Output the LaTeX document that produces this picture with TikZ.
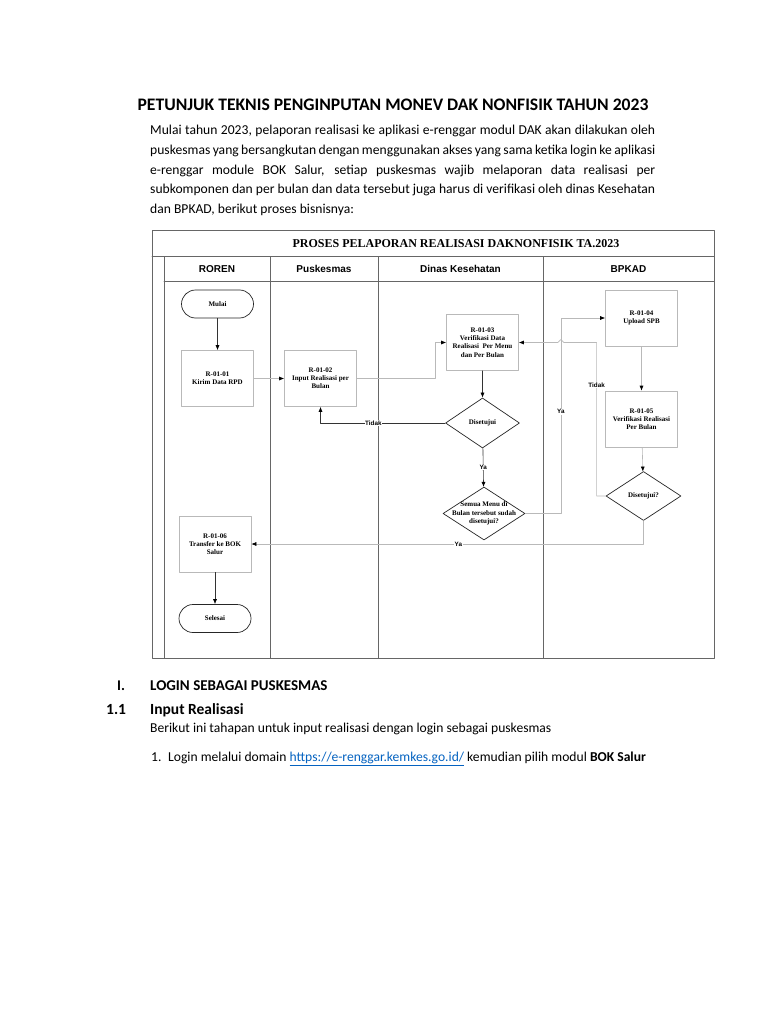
\documentclass[tikz,border=0pt]{standalone}
\usepackage{fontspec}
\setmainfont{Carlito}
\newfontfamily\diagfont{Liberation Serif}
\newfontfamily\lanefont{Liberation Sans}
\usetikzlibrary{arrows.meta,shapes.geometric,calc}
\definecolor{linkblue}{HTML}{0563C1}

\tikzset{
    procbox/.style={draw=gray!55, line width=0.6pt, minimum width=72pt, minimum height=56pt,
        inner sep=1pt, align=center, font=\diagfont\bfseries\fontsize{7}{8.2}\selectfont},
    termbox/.style={draw=black!85, line width=0.7pt, rounded corners=14pt, minimum width=72pt,
        minimum height=28pt, align=center, font=\diagfont\bfseries\fontsize{7}{8.2}\selectfont},
    decbox/.style={diamond, draw=black!85, line width=0.7pt, inner sep=0pt, minimum width=74pt,
        minimum height=50pt, align=center, font=\diagfont\bfseries\fontsize{7}{8.2}\selectfont},
    flow/.style={gray!55, line width=0.6pt, -{Latex[length=5pt,width=4pt,color=black]}},
    flowdark/.style={black!80, line width=0.6pt, -{Latex[length=5pt,width=4pt,color=black]}},
    flowlabel/.style={font=\lanefont\bfseries\fontsize{6.3}{7}\selectfont, fill=white, inner sep=0.6pt, text=black},
    frame/.style={black!60, line width=1pt},
    lanehead/.style={inner sep=0pt, anchor=base, font=\lanefont\bfseries\fontsize{10}{12}\selectfont},
    plain/.style={inner sep=0pt, anchor=base west},
}

\begin{document}
\begin{tikzpicture}[x=1pt, y=-1pt, line cap=round, line join=round]
    \useasboundingbox[fill=white] (0,0) rectangle (768,1024);

    % page text above the chart
    \node[inner sep=0pt, anchor=base] (doctitle) at (393,110.5)
        {\bfseries\fontsize{17.6}{20}\selectfont PETUNJUK TEKNIS PENGINPUTAN MONEV DAK NONFISIK TAHUN 2023};
    \node[inner sep=0pt, anchor=north west, align=left, font=\fontsize{13.6}{19.7}\selectfont] (intro) at (150,125)
        {\makebox[505pt][s]{Mulai tahun 2023, pelaporan realisasi ke aplikasi e-renggar modul DAK akan dilakukan oleh}\\
         \makebox[505pt][s]{puskesmas yang bersangkutan dengan menggunakan akses yang sama ketika login ke aplikasi}\\
         \makebox[505pt][s]{e-renggar module BOK Salur, setiap puskesmas wajib melaporan data realisasi per}\\
         \makebox[505pt][s]{subkomponen dan per bulan dan data tersebut juga harus di verifikasi oleh dinas Kesehatan}\\
         dan BPKAD, berikut proses bisnisnya:};

    % swimlane frame
    \draw[frame] (152,231) rectangle (714,658);
    \draw[frame] (152,256.5) -- (714,256.5);
    \draw[frame] (164,281) -- (714,281);
    \draw[frame] (164,256.5) -- (164,658);
    \foreach \x in {270.5,378,543.5} {
        \draw[frame] (\x,256.5) -- (\x,658);
    }
    \node[font=\diagfont\bfseries\fontsize{12}{14}\selectfont] (chartname) at (456,244)
        {PROSES PELAPORAN REALISASI DAKNONFISIK TA.2023};
    \node[lanehead] (hroren) at (217,272.3) {ROREN};
    \node[lanehead] (hpusk) at (324,272.3) {Puskesmas};
    \node[lanehead] (hdinas) at (460.5,272.3) {Dinas Kesehatan};
    \node[lanehead] (hbpkad) at (628.5,272.3) {BPKAD};

    % steps
    \node[termbox] (mulai) at (217.5,304) {Mulai};
    \node[procbox] (r01) at (217.5,378.5) {R-01-01\\Kirim Data RPD};
    \node[procbox] (r02) at (320.5,378.5) {R-01-02\\Input Realisasi per\\Bulan};
    \node[procbox] (r03) at (482.5,342.5) {R-01-03\\Verifikasi Data\\Realisasi\ \ Per Menu\\dan Per Bulan};
    \node[decbox] (setuju) at (482.5,423) {Disetujui};
    \node[decbox, minimum width=82pt, minimum height=53pt,
          label={[font=\diagfont\bfseries\fontsize{7}{8.2}\selectfont, align=center]center:Semua Menu di\\Bulan tersebut sudah\\disetujui?}]
          (semua) at (484,513.5) {};
    \node[procbox] (r04) at (641.5,318) {R-01-04\\Upload SPB};
    \node[procbox] (r05) at (641.5,419) {R-01-05\\Verifikasi Realisasi\\Per Bulan};
    \node[decbox, minimum width=75pt, minimum height=49pt] (setuju2) at (643.5,496) {Disetujui?};
    \node[procbox] (r06) at (215,544) {R-01-06\\Transfer ke BOK\\Salur};
    \node[termbox] (selesai) at (215,618.5) {Selesai};

    % connectors
    \coordinate (yaup) at ($(semua.east)+(35.5,0)$);
    \draw[flowdark] (mulai) -- (r01);
    \draw[flow] (r01) -- (r02);
    \draw[flow] (r02.east) -- ++(78,0) |- (r03.west);
    \draw[flowdark] (r03) -- (setuju);
    \draw[flowdark] (setuju.west) -| (r02.south) node[pos=0.288, flowlabel] {Tidak};
    \draw[flowdark] (setuju) -- (semua) node[midway, flowlabel] {Ya};
    \draw[flow] (semua.east) -- (yaup) |- (r04.west) node[pos=0.26, flowlabel] {Ya};
    \draw[flow] (r04) -- (r05);
    \draw[flow] (r05) -- (setuju2);
    \draw[flow] (setuju2.west) -- ++(-9,0) |- ($(yaup |- r03.east)+(3,0)$) node[pos=0.36, flowlabel] {Tidak}
        -- ++(-3,-3) -- ++(-3,3) -- (r03.east);
    \draw[flow] (setuju2.south) |- (r06.east) node[pos=0.736, flowlabel] {Ya};
    \draw[flowdark] (r06) -- (selesai);

    % page text below the chart
    \node[plain, font=\bfseries\fontsize{14.8}{17}\selectfont] (secnum) at (117,690.5) {I.};
    \node[plain, font=\bfseries\fontsize{15}{17}\selectfont] (sechead) at (150,690.5) {LOGIN SEBAGAI PUSKESMAS};
    \node[plain, font=\bfseries\fontsize{15.5}{18}\selectfont] (subnum) at (106,714) {1.1};
    \node[plain, font=\bfseries\fontsize{15.5}{18}\selectfont] (subhead) at (150,714) {Input Realisasi};
    \node[plain, font=\fontsize{13.6}{16}\selectfont] (subtext) at (150,732.5)
        {Berikut ini tahapan untuk input realisasi dengan login sebagai puskesmas};
    \node[plain, font=\fontsize{13.6}{16}\selectfont] (stepnum) at (151,761) {1.};
    \node[plain, font=\fontsize{13.6}{16}\selectfont] (steptext) at (168,761)
        {Login melalui domain \textcolor{linkblue}{\underline{https://e-renggar.kemkes.go.id/}} kemudian pilih modul \textbf{BOK Salur}};
\end{tikzpicture}
\end{document}
